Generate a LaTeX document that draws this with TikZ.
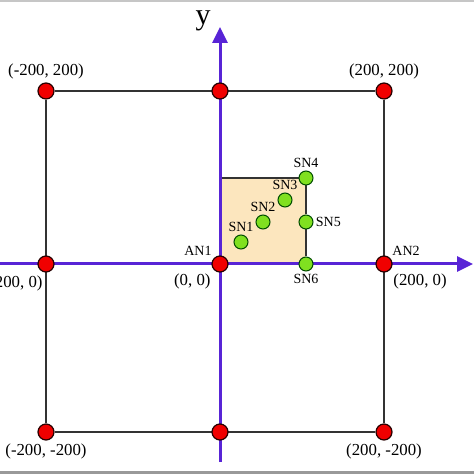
\documentclass[tikz,border=0pt]{standalone}
\usepackage{fontspec}
\setmainfont{Liberation Serif}
\usetikzlibrary{arrows.meta,backgrounds}

\definecolor{axisblue}{RGB}{88,36,214}
\definecolor{anred}{RGB}{240,0,0}
\definecolor{sngreen}{RGB}{128,224,32}
\definecolor{areafill}{RGB}{252,230,190}
\definecolor{framegray}{RGB}{51,51,51}

\tikzset{
  an/.style={circle, draw=black!85!red, line width=0.6pt, fill=anred, minimum size=8pt, inner sep=0pt},
  sn/.style={circle, draw=black!70!green, line width=0.5pt, fill=sngreen, minimum size=7pt, inner sep=0pt},
  coordlbl/.style={font=\fontsize{8.4}{9}\selectfont, inner sep=1.5pt},
  snlbl/.style={font=\fontsize{7}{8}\selectfont, inner sep=1pt},
  frameline/.style={framegray, line width=0.75pt},
  axisline/.style={axisblue, line width=1.5pt, -{Triangle[width=7.5pt,length=8pt]}}
}

\begin{document}
\begin{tikzpicture}[x=0.5pt, y=0.5pt]
\useasboundingbox (-220,-210) rectangle (254,264);

% anchor nodes
\node at (-174,173) [an, label={[coordlbl]above:(-200, 200)}] (NW) {};
\node at (0,173) [an] (N) {};
\node at (164,173) [an, label={[coordlbl]above:(200, 200)}] (NE) {};
\node at (-174,0) [an, label={[coordlbl, xshift=3pt, yshift=-1pt]below left:(-200, 0)}] (W) {};
\node at (0,0) [an, label={[snlbl]above left:AN1}, label={[coordlbl]below left:(0, 0)}] (AN1) {};
\node at (164,0) [an, label={[snlbl]above right:AN2}, label={[coordlbl]below right:(200, 0)}] (AN2) {};
\node at (-174,-168) [an, label={[coordlbl]below:(-200, -200)}] (SW) {};
\node at (0,-168) [an] (S) {};
\node at (164,-168) [an, label={[coordlbl]below:(200, -200)}] (SE) {};

% sensor nodes
\node at (21,22) [sn, label={[snlbl]above:SN1}] (SN1) {};
\node at (43,42) [sn, label={[snlbl]above:SN2}] (SN2) {};
\node at (65,64) [sn, label={[snlbl]above:SN3}] (SN3) {};
\node at (86,86) [sn, label={[snlbl]above:SN4}] (SN4) {};
\node at (86,42) [sn, label={[snlbl]right:SN5}] (SN5) {};
\node at (86,0) [sn, label={[snlbl]below:SN6}] (SN6) {};

\coordinate (areaTL) at (0,86);
\coordinate (xs) at (-222,0);
\coordinate (xe) at (253,0);
\coordinate (ys) at (0,-198);
\coordinate (ye) at (0,237);

\node at (-17,243) [font=\fontsize{15}{16}\selectfont] (ylbl) {y};

\begin{scope}[on background layer]
\fill[gray!45] (-220,262) rectangle (254,264);
\fill[gray!80] (-220,-207) rectangle (254,-210);
\fill[areafill] (AN1.center) rectangle (SN4.center);

\draw[frameline] (NW) -- (NE);
\draw[frameline] (NE) -- (SE);
\draw[frameline] (SE) -- (SW);
\draw[frameline] (SW) -- (NW);
\draw[frameline] (areaTL) -- (SN4) -- (SN5) -- (SN6);

\draw[axisline] (xs) -- (xe);
\draw[axisline] (ys) -- (ye);
\end{scope}
\end{tikzpicture}
\end{document}
